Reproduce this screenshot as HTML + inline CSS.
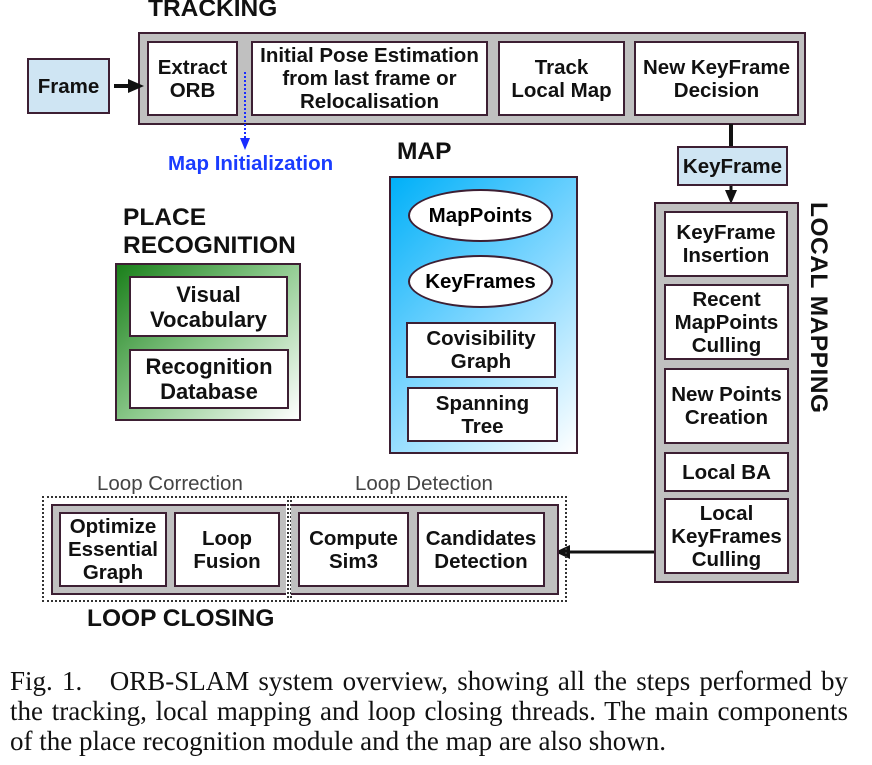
<!DOCTYPE html>
<html><head><meta charset="utf-8"><style>
body{margin:0;width:872px;height:765px;background:#fff;position:relative;overflow:hidden;font-family:"Liberation Sans",sans-serif}
.a{position:absolute;box-sizing:border-box}
.g{background:#c0c0c0;border:2px solid #3d1f33}
.w{background:#fff;border:2px solid #3d1f33;display:flex;align-items:center;justify-content:center;text-align:center;font-weight:bold;font-size:20.5px;line-height:23px;color:#111;white-space:nowrap}
.t{font-weight:bold;font-size:24.5px;color:#111;line-height:26px}
.el{background:#fff;border:2px solid #3d1f33;border-radius:50%;display:flex;align-items:center;justify-content:center;font-weight:bold;font-size:20.5px}
.d{border:2px dotted #333}
.cap{font-family:"Liberation Serif",serif;font-size:27px;color:#111;line-height:30px;text-align:justify;text-align-last:justify;white-space:nowrap}
</style></head><body>
<div class="a t" style="left:148px;top:-4px">TRACKING</div>
<div class="a g" style="left:138px;top:32px;width:668px;height:93px"></div>
<div class="a w" style="left:147px;top:41px;width:91px;height:75px">Extract<br>ORB</div>
<div class="a w" style="left:251px;top:41px;width:237px;height:75px">Initial Pose Estimation<br>from last frame or<br>Relocalisation</div>
<div class="a w" style="left:498px;top:41px;width:127px;height:75px">Track<br>Local Map</div>
<div class="a w" style="left:634px;top:41px;width:165px;height:75px">New KeyFrame<br>Decision</div>
<div class="a w" style="left:27px;top:58px;width:83px;height:56px;background:#cfe5f3">Frame</div>
<svg class="a" style="left:0;top:0" width="872" height="765">
<line x1="114" y1="86" x2="138" y2="86" stroke="#111" stroke-width="4"/><path d="M128,79 L144,86 L128,93z" fill="#111"/>
<line x1="245" y1="72" x2="245" y2="142" stroke="#1a2cff" stroke-width="2" stroke-dasharray="2,2"/><path d="M240,138 L245,150 L250,138z" fill="#1a2cff"/>
<line x1="731" y1="124" x2="731" y2="147" stroke="#111" stroke-width="4"/>
<line x1="731" y1="185" x2="731" y2="196" stroke="#111" stroke-width="3"/><path d="M725,190 L731,204 L737,190z" fill="#111"/>
<line x1="664" y1="552" x2="566" y2="552" stroke="#111" stroke-width="3"/><path d="M570,545 L555,552 L570,559z" fill="#111"/>
</svg>
<div class="a" style="left:168px;top:152px;color:#1a3cff;font-weight:bold;font-size:20.5px">Map Initialization</div>
<div class="a t" style="left:397px;top:139px">MAP</div>
<div class="a" style="left:389px;top:176px;width:189px;height:278px;border:2px solid #3d1f33;background:linear-gradient(135deg,#00b0f8 0%,#7fd6ff 50%,#fff 100%)"></div>
<div class="a el" style="left:408px;top:189px;width:145px;height:53px">MapPoints</div>
<div class="a el" style="left:408px;top:255px;width:145px;height:53px">KeyFrames</div>
<div class="a w" style="left:406px;top:322px;width:150px;height:56px">Covisibility<br>Graph</div>
<div class="a w" style="left:407px;top:387px;width:151px;height:55px">Spanning<br>Tree</div>
<div class="a w" style="left:677px;top:146px;width:111px;height:40px;background:#cfe5f3">KeyFrame</div>
<div class="a g" style="left:654px;top:202px;width:145px;height:381px"></div>
<div class="a w" style="left:664px;top:211px;width:124px;height:66px">KeyFrame<br>Insertion</div>
<div class="a w" style="left:664px;top:284px;width:125px;height:76px">Recent<br>MapPoints<br>Culling</div>
<div class="a w" style="left:664px;top:368px;width:125px;height:76px">New Points<br>Creation</div>
<div class="a w" style="left:664px;top:452px;width:125px;height:40px">Local BA</div>
<div class="a w" style="left:664px;top:498px;width:125px;height:76px">Local<br>KeyFrames<br>Culling</div>
<div class="a t" style="left:805px;top:202px;writing-mode:vertical-rl;font-size:24.5px;letter-spacing:0.5px">LOCAL MAPPING</div>
<div class="a t" style="left:123px;top:204px;line-height:28px">PLACE<br>RECOGNITION</div>
<div class="a" style="left:115px;top:263px;width:186px;height:158px;border:2px solid #3d1f33;background:linear-gradient(135deg,#1a7f1a 0%,#8cc98c 50%,#fff 100%)"></div>
<div class="a w" style="left:129px;top:276px;width:159px;height:61px;font-size:22px;line-height:25px">Visual<br>Vocabulary</div>
<div class="a w" style="left:129px;top:349px;width:160px;height:60px;font-size:22px;line-height:25px">Recognition<br>Database</div>
<div class="a" style="left:97px;top:472px;font-size:20.5px;color:#444">Loop Correction</div>
<div class="a" style="left:355px;top:472px;font-size:20.5px;color:#444">Loop Detection</div>
<div class="a d" style="left:42px;top:496px;width:247px;height:106px"></div>
<div class="a d" style="left:290px;top:496px;width:277px;height:106px"></div>
<div class="a g" style="left:51px;top:504px;width:235px;height:91px;border-right:none"></div>
<div class="a g" style="left:291px;top:504px;width:268px;height:91px;border-left:none"></div>
<div class="a w" style="left:59px;top:512px;width:108px;height:75px">Optimize<br>Essential<br>Graph</div>
<div class="a w" style="left:174px;top:512px;width:106px;height:75px">Loop<br>Fusion</div>
<div class="a w" style="left:298px;top:512px;width:111px;height:75px">Compute<br>Sim3</div>
<div class="a w" style="left:417px;top:512px;width:128px;height:75px">Candidates<br>Detection</div>
<div class="a t" style="left:87px;top:606px">LOOP CLOSING</div>
<div class="a cap" style="left:10px;top:666px;width:838px">Fig. 1.&nbsp;&nbsp; ORB-SLAM system overview, showing all the steps performed by</div>
<div class="a cap" style="left:10px;top:696px;width:838px">the tracking, local mapping and loop closing threads. The main components</div>
<div class="a cap" style="left:10px;top:726px;text-align-last:left">of the place recognition module and the map are also shown.</div>
</body></html>
